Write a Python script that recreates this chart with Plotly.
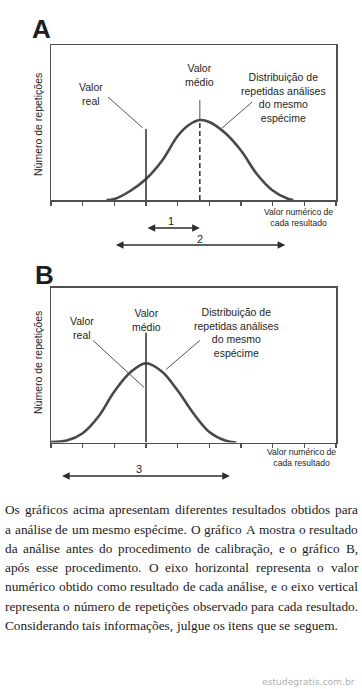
import plotly.graph_objects as go

W, H = 362, 689

# ---------------- data ----------------
tick_positions = list(range(10))

# Panel A (before calibration)
a_curve_x = [1.75, 2.0, 2.5, 3.0, 3.5, 4.0, 4.35, 4.7, 5.0, 5.5, 6.0, 6.5, 7.0, 7.5, 7.65]
a_curve_y = [0, 1, 9, 21, 39, 64, 75, 80, 78, 67, 49.5, 26, 9.5, 1, 0]
a_true_value = 3.0
a_true_top = 71
a_mean_value = 4.7
a_mean_label_top = 100
a_spread = [2.0, 7.4]

# Panel B (after calibration)
b_curve_x = [0.0, 0.5, 1.0, 1.5, 2.0, 2.5, 3.0, 3.5, 4.0, 4.5, 5.0, 5.5, 5.85]
b_curve_y = [0.5, 2, 9.3, 26, 51, 70, 79.3, 71, 52, 29, 10.5, 2, 0]
b_true_value = 3.0
b_mean_value = 3.0
b_mean_label_top = 110
b_spread = [0.3, 5.65]

y_max = 155

paragraph_lines = [
    "Os gráficos acima apresentam diferentes resultados obtidos para",
    "a análise de um mesmo espécime. O gráfico A mostra o resultado",
    "da análise antes do procedimento de calibração, e o gráfico B,",
    "após esse procedimento. O eixo horizontal representa o valor",
    "numérico obtido como resultado de cada análise, e o eixo vertical",
    "representa o número de repetições observado para cada resultado.",
    "Considerando tais informações, julgue os itens que se seguem.",
]

# ---------------- styles ----------------
FRAME = "#505050"
CURVE = "#484848"
LINE = "#2e2e2e"
LEAD = "#555555"
TXT = "#1e1e1e"
SANS = "Arial, Liberation Sans, sans-serif"
SERIF = "Times New Roman, Liberation Serif, serif"


def py(p):
    return 1 - p / H


fig = go.Figure()

# curves
fig.add_trace(go.Scatter(x=a_curve_x, y=a_curve_y, mode="lines",
                         line=dict(color=CURVE, width=2.6, shape="spline", smoothing=1.0),
                         xaxis="x", yaxis="y", hoverinfo="skip"))
fig.add_trace(go.Scatter(x=b_curve_x, y=b_curve_y, mode="lines",
                         line=dict(color=CURVE, width=2.6, shape="spline", smoothing=1.0),
                         xaxis="x2", yaxis="y2", hoverinfo="skip"))

# panel A vertical lines
fig.add_trace(go.Scatter(x=[a_true_value, a_true_value], y=[0, a_true_top], mode="lines",
                         line=dict(color=LINE, width=1.5), xaxis="x", yaxis="y", hoverinfo="skip"))
a_peak = max(a_curve_y)
fig.add_trace(go.Scatter(x=[a_mean_value, a_mean_value], y=[0, a_peak], mode="lines",
                         line=dict(color=LINE, width=1.5, dash="5px,3px"), xaxis="x", yaxis="y",
                         hoverinfo="skip"))
fig.add_trace(go.Scatter(x=[a_mean_value, a_mean_value], y=[a_peak, a_mean_label_top], mode="lines",
                         line=dict(color=LEAD, width=1), xaxis="x", yaxis="y", hoverinfo="skip"))

# panel B vertical line (true value = mean)
fig.add_trace(go.Scatter(x=[b_mean_value, b_mean_value], y=[0, b_mean_label_top], mode="lines",
                         line=dict(color=LINE, width=1.5), xaxis="x2", yaxis="y2", hoverinfo="skip"))

axis_common = dict(showline=True, mirror=True, linecolor=FRAME, linewidth=1.5,
                   showgrid=False, zeroline=False, fixedrange=True)

fig.update_layout(
    width=W, height=H,
    margin=dict(l=0, r=0, t=0, b=0),
    paper_bgcolor="white", plot_bgcolor="white",
    showlegend=False,
    xaxis=dict(domain=[51 / W, 336 / W], range=[0, 9], tickvals=tick_positions,
               ticks="outside", ticklen=4, tickwidth=1.2, tickcolor=FRAME,
               showticklabels=False, anchor="y", **axis_common),
    yaxis=dict(domain=[py(200), py(45)], range=[0, y_max], ticks="", showticklabels=False,
               anchor="x", **axis_common),
    xaxis2=dict(domain=[51 / W, 336 / W], range=[0, 9], tickvals=tick_positions,
                ticks="outside", ticklen=4, tickwidth=1.2, tickcolor=FRAME,
                showticklabels=False, anchor="y2", **axis_common),
    yaxis2=dict(domain=[py(442.5), py(287.5)], range=[0, y_max], ticks="", showticklabels=False,
                anchor="x2", **axis_common),
)

shapes = []


def leader(xr, yr, x0, y0, x1, y1):
    shapes.append(dict(type="line", xref=xr, yref=yr, x0=x0, y0=y0, x1=x1, y1=y1,
                       line=dict(color=LEAD, width=1)))


# leader lines panel A
leader("x", "y", 1.8, 103, 2.9, 72)
leader("x", "y", 6.35, 98, 5.4, 72)
# leader lines panel B
leader("x2", "y2", 1.33, 102, 2.94, 55)
leader("x2", "y2", 4.7, 102, 3.63, 73)
fig.update_layout(shapes=shapes)

ann = []


def label(text, xr, yr, x, y, size=10.5, anchor="center", **kw):
    ann.append(dict(text=text, xref=xr, yref=yr, x=x, y=y, showarrow=False,
                    xanchor=anchor, yanchor="middle", align="center",
                    font=dict(family=SANS, size=size, color=TXT), **kw))


# panel letters
label("<b>A</b>", "paper", "paper", 41 / W, py(29), size=26)
label("<b>B</b>", "paper", "paper", 44 / W, py(275.5), size=26)

# y-axis titles
label("Número de repetições", "paper", "paper", 38 / W, py(125), size=10.5, textangle=-90)
label("Número de repetições", "paper", "paper", 38 / W, py(363), size=10.5, textangle=-90)

# panel A labels
label("Valor<br>real", "x", "y", 1.26, 106.5)
label("Valor<br>médio", "x", "y", a_mean_value, 125.5)
label("Distribuição de<br>repetidas análises<br>do mesmo<br>espécime", "x", "y", 7.33, 102.5)
label("Valor numérico de<br>cada resultado", "x", "paper", 7.8, py(217.5), size=8.6)

# panel B labels
label("Valor<br>real", "x2", "y2", 0.98, 115)
label("Valor<br>médio", "x2", "y2", b_mean_value, 122.5)
label("Distribuição de<br>repetidas análises<br>do mesmo<br>espécime", "x2", "y2", 5.87, 110)
label("Valor numérico de<br>cada resultado", "x2", "paper", 7.9, py(457), size=8.6)


def double_arrow(xr, x0, x1, ypix):
    ann.append(dict(text="", xref=xr, yref="paper", x=x1, y=py(ypix),
                    axref=xr, ax=x0, ayref="pixel", ay=0,
                    showarrow=True, arrowside="end+start", arrowhead=2,
                    arrowsize=1.1, arrowwidth=1.4, arrowcolor=LINE,
                    standoff=0, startstandoff=0))


# bias and dispersion arrows
double_arrow("x", a_true_value, a_mean_value, 228)
label("1", "x", "paper", (a_true_value + a_mean_value) / 2 - 0.06, py(221), size=11)
double_arrow("x", a_spread[0], a_spread[1], 245)
label("2", "x", "paper", (a_spread[0] + a_spread[1]) / 2, py(239), size=11)
double_arrow("x2", b_spread[0], b_spread[1], 476)
label("3", "x2", "paper", 2.78, py(469), size=11)

# paragraph, justified word by word (Times metrics)
TW = {" ": 250, ",": 250, ".": 250, "A": 722, "B": 667, "C": 667, "O": 722,
      "a": 444, "b": 500, "c": 444, "d": 500, "e": 444, "f": 333, "g": 500, "h": 500,
      "i": 278, "j": 278, "k": 500, "l": 278, "m": 778, "n": 500, "o": 500, "p": 500,
      "q": 500, "r": 333, "s": 389, "t": 278, "u": 500, "v": 500, "w": 722, "x": 500,
      "y": 500, "z": 444, "á": 444, "é": 444, "ú": 500, "ç": 444, "ã": 444, "õ": 500,
      "ó": 500, "í": 278, "ê": 444}
fs = 13.3
left_px, right_px = 5, 358
for i, line in enumerate(paragraph_lines):
    words = line.split(" ")
    widths = [sum(TW.get(c, 500) for c in w) * fs / 1000 for w in words]
    ypx = 510 + i * 19.2
    if i < len(paragraph_lines) - 1:
        gap = (right_px - left_px - sum(widths)) / (len(words) - 1)
    else:
        gap = 250 * fs / 1000
    xpx = left_px
    for w, wd in zip(words, widths):
        ann.append(dict(text=w, xref="paper", yref="paper", x=xpx / W, y=py(ypx),
                        xanchor="left", yanchor="middle", showarrow=False,
                        borderpad=0, borderwidth=0,
                        font=dict(family=SERIF, size=fs, color="#1a1a1a")))
        xpx += wd + gap

# watermark
ann.append(dict(text="estudegratis.com.br", xref="paper", yref="paper", x=357 / W, y=py(681),
                xanchor="right", yanchor="middle", showarrow=False,
                font=dict(family="DejaVu Sans, sans-serif", size=9.2, color="#b0b0b0")))

fig.update_layout(annotations=ann)

fig.write_html("out.html", config={"displayModeBar": False, "staticPlot": True},
               post_script="document.body.style.margin='0';document.body.style.padding='0';"
                           "document.documentElement.style.overflow='hidden';")
